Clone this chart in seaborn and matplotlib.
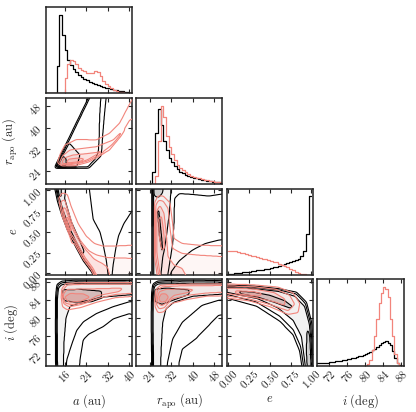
import numpy as np
import pandas as pd
import matplotlib
matplotlib.use("Agg")
import matplotlib.pyplot as plt
import seaborn as sns
from matplotlib.colors import LinearSegmentedColormap
from matplotlib.path import Path
from matplotlib.ticker import FixedLocator, FixedFormatter, NullFormatter

# ---------------- data ----------------
PARAMS = ["a", "r", "e", "i"]
RANGES = {"a": (9.0, 41.0), "r": (19.0, 51.0), "e": (-0.02, 1.02), "i": (69.5, 88.5)}
TICKS = {"a": [16, 24, 32, 40], "r": [24, 32, 40, 48],
         "e": [0.0, 0.25, 0.5, 0.75, 1.0], "i": [72, 76, 80, 84, 88]}
TICK_LABELS = {"a": ["16", "24", "32", "40"], "r": ["24", "32", "40", "48"],
               "e": ["0.00", "0.25", "0.50", "0.75", "1.00"],
               "i": ["72", "76", "80", "84", "88"]}
AXIS_LABELS = {"a": r"$a\ (\mathrm{au})$", "r": r"$r_{\mathrm{apo}}\ (\mathrm{au})$",
               "e": r"$e$", "i": r"$i\ (\mathrm{deg})$"}

# 1-D histograms: bin edges and bin heights (black = prior, red = posterior)
a_edges = list(np.arange(9, 42, 1.0))
a_black = [0, 0, 0, 0, 0.35, 1.0, 0.75, 0.55, 0.43, 0.36, 0.31, 0.27, 0.24, 0.21, 0.19, 0.17,
           0.15, 0.135, 0.12, 0.105, 0.095, 0.085, 0.075, 0.065, 0.055, 0.048, 0.04, 0.033,
           0.027, 0.02, 0.015, 0.01]
a_red = [0, 0, 0, 0, 0, 0, 0, 0.2, 0.38, 0.43, 0.41, 0.37, 0.33, 0.30, 0.28, 0.26, 0.255,
         0.265, 0.28, 0.275, 0.22, 0.16, 0.12, 0.09, 0.07, 0.05, 0.035, 0.025, 0.015, 0.01,
         0.005, 0]

r_edges = list(np.arange(19, 52, 1.0))
r_black = [0, 0, 0, 0, 0, 0, 0.15, 0.65, 0.96, 0.75, 0.55, 0.43, 0.34, 0.28, 0.23, 0.19, 0.16,
           0.14, 0.12, 0.105, 0.095, 0.085, 0.075, 0.065, 0.058, 0.05, 0.045, 0.04, 0.035,
           0.03, 0.025, 0.02]
r_red = [0, 0, 0, 0, 0, 0, 0, 0.1, 0.55, 1.0, 0.85, 0.62, 0.48, 0.38, 0.31, 0.25, 0.21, 0.18,
         0.15, 0.13, 0.11, 0.095, 0.085, 0.075, 0.065, 0.057, 0.05, 0.045, 0.04, 0.035, 0.03,
         0.025]

e_edges = list(np.linspace(0, 1, 31))
e_black = [0.012, 0.016, 0.02, 0.025, 0.03, 0.035, 0.04, 0.045, 0.05, 0.055, 0.06, 0.065,
           0.07, 0.076, 0.083, 0.09, 0.098, 0.107, 0.117, 0.128, 0.14, 0.152, 0.165, 0.178,
           0.193, 0.21, 0.24, 0.31, 0.52, 1.0]
e_red = [0.31, 0.305, 0.30, 0.29, 0.28, 0.275, 0.265, 0.255, 0.245, 0.24, 0.23, 0.22, 0.21,
         0.20, 0.19, 0.18, 0.17, 0.16, 0.145, 0.13, 0.115, 0.10, 0.08, 0.06, 0.045, 0.03,
         0.017, 0.008, 0.003, 0]

i_edges = list(np.arange(69.5, 88.51, 0.5))
i_black = [0.03, 0.033, 0.036, 0.039, 0.042, 0.045, 0.049, 0.053, 0.057, 0.062, 0.067, 0.072,
           0.077, 0.083, 0.089, 0.096, 0.103, 0.111, 0.12, 0.13, 0.14, 0.152, 0.165, 0.18,
           0.2, 0.22, 0.24, 0.265, 0.29, 0.305, 0.31, 0.295, 0.26, 0.19, 0.1, 0.035, 0.008, 0]
i_red = [0] * 22 + [0.02, 0.08, 0.2, 0.38, 0.6, 0.8, 0.93, 1.0, 0.98, 0.88, 0.6, 0.38, 0.15,
                    0.03, 0, 0]

HISTS = {"a": (a_edges, a_black, a_red), "r": (r_edges, r_black, r_red),
         "e": (e_edges, e_black, e_red), "i": (i_edges, i_black, i_red)}

# 2-D panels: regions of the sample density, one list per
# density layer (2, 1.5, 1, 0.5 sigma), each layer a list of outlines.
ra_black = [[[(12.3, 25.0), (25.5, 52), (31.5, 52), (30.8, 45), (30.2, 38), (29.8, 32), (29.5, 29.5), (25, 25.0)]],
            [[(12.7, 25.3), (25.6, 52), (29.5, 52), (29, 44), (28.8, 36), (28.5, 31), (27.5, 28.5), (24.5, 25.3)]],
            [[(12.9, 25.5), (17.7, 34.3), (21.7, 29.8), (20.5, 25.5)]],
            [[(13.2, 25.7), (15.2, 29.6), (16.5, 28.5), (16.5, 25.7)]]]
ra_red = [[[(13.3, 27.0), (14.5, 30.5), (16.1, 33.5), (20.4, 35.6), (27.8, 35.4), (32.7, 37.9), (36.4, 41.6),
            (40.0, 48.5), (42, 52), (42, 43.5), (40.2, 42.8), (36.4, 36.6), (32.7, 31.7), (27.8, 29.0),
            (25, 27.3), (20, 25.9), (15, 25.9)]],
          [[(14.0, 26.8), (15.2, 29.5), (18, 31.7), (27.8, 32.9), (34, 35.4), (37.7, 39.1), (38.5, 39.5),
            (37, 37.2), (34, 33.9), (31, 31.6), (27.5, 29.8), (24, 27.6), (18, 26.4), (15, 26.3)]],
          [[(14.8, 26.9), (16, 28.8), (19, 29.8), (24, 30.3), (28, 30.8), (30, 31.5), (30.5, 30.8),
            (28.5, 29.5), (25, 27.9), (20, 26.7), (16, 26.5)]],
          [[(16.5, 26.9), (17.5, 28.3), (21, 28.7), (23.5, 28.4), (22, 27.2), (18, 26.8)]]]

ea_black = [[[(12.2, 1.06), (42, 1.06), (42, 0.8), (38, 0.6), (36, 0.45), (35, 0.3), (34, 0.1), (33.5, -0.06),
              (27.3, -0.06), (26, 0.02), (23, 0.15), (20, 0.33), (17, 0.53), (15, 0.7), (13.4, 0.87)]],
            [[(12.5, 1.06), (25, 1.06), (26.6, 0.65), (29.1, 0.5), (30.3, 0.35), (31.5, 0.15), (32.3, -0.06),
              (27.8, -0.06), (26.3, 0.03), (23.3, 0.16), (20.3, 0.34), (17.3, 0.54), (15.3, 0.71), (13.7, 0.88)]],
            [[(12.9, 1.06), (16.5, 1.06), (16, 0.9), (18.5, 0.62), (21, 0.44), (23.2, 0.27), (22.8, 0.22),
              (20.5, 0.36), (18, 0.53), (15.8, 0.72), (14.2, 0.88)]],
            [[(13.2, 1.06), (14.8, 1.06), (14.8, 0.93), (14.2, 0.91), (13.6, 0.95)]]]
ea_red = [[[(13.8, 0.9), (15, 0.97), (17, 0.95), (18.5, 0.8), (21, 0.6), (24, 0.45), (27, 0.36), (30, 0.33),
            (35, 0.33), (42, 0.34), (42, -0.06), (27.6, -0.06), (26, 0.04), (23, 0.17), (20, 0.34), (17, 0.53),
            (15, 0.7)]],
          [[(14.5, 0.86), (16, 0.89), (17.5, 0.72), (19.5, 0.52), (22, 0.38), (25, 0.27), (28, 0.22), (32, 0.19),
            (42, 0.18), (42, -0.06), (28, -0.06), (26.2, 0.06), (23.3, 0.18), (20.3, 0.36), (17.4, 0.54),
            (15.4, 0.71)]],
          [[(15.3, 0.8), (16.5, 0.78), (18.5, 0.58), (21, 0.42), (24, 0.28), (27, 0.17), (30, 0.12), (32, 0.07),
            (33, -0.06), (28.4, -0.06), (26.4, 0.06), (23.5, 0.19), (20.5, 0.36), (17.7, 0.53), (16, 0.66)]],
          [[(16.6, 0.68), (17.5, 0.68), (19, 0.45), (19.6, 0.36), (18.7, 0.36), (17.2, 0.55)]]]

ia_black = [[[(12.9, 69), (12.8, 80), (12.9, 85), (13.3, 87.4), (15, 88.1), (20, 88.3), (42, 88.2), (42, 80.4),
              (40.1, 81), (34, 79.8), (30.3, 78.1), (25, 76.5), (22.9, 75.2), (21.7, 70.8), (21.5, 69)]],
            [[(13.0, 69), (12.9, 80), (13.0, 85), (13.4, 87.2), (15, 87.8), (20, 88), (42, 87.9), (42, 83.6),
              (40.1, 83.6), (34, 82.5), (27.8, 81), (23, 79.2), (20.5, 77.3), (18.5, 74), (16.8, 70.8), (16.6, 69)]],
            [[(13.2, 69), (13.0, 78), (13.1, 84), (13.6, 86.6), (15, 87.4), (20, 87.6), (42, 87.5), (42, 85.2),
              (30, 84.6), (22, 83.4), (18, 82.6), (16.5, 80), (15.8, 75), (15.5, 69)]],
            [[(15.3, 86.2), (22, 86.3), (29.7, 85.9), (29.8, 84.5), (26, 83.6), (20, 83.5), (16, 83.8), (15.2, 84.8)]]]
ia_red = [[[(14.8, 84.5), (15, 86.5), (16.5, 87.6), (25, 87.8), (42, 87.8), (42, 84.8), (35, 84.5), (28, 83.5),
            (22, 82.3), (17, 81.8), (15.2, 82.5)]],
          [[(15.2, 84.8), (15.4, 86.2), (17, 87.3), (25, 87.5), (42, 87.5), (42, 85.5), (35, 85.2), (28, 84.3),
            (22, 83), (17.5, 82.5), (15.7, 83.2)]],
          [[(16, 83.3), (15.3, 85.2), (17, 86.3), (25, 86.4), (32, 86.5), (38, 86.6), (36, 85.8), (28, 84.9),
            (24, 83.5), (19, 82.9)]],
          [[(16, 84.6), (18, 85.4), (23, 85.3), (25.5, 84.6), (22, 83.7), (17.5, 83.5)]]]

er_black = [[[(25.0, 1.06), (52, 1.06), (52, 0.41), (49.5, 0.4), (44.7, 0.36), (39.8, 0.28), (34.9, 0.15),
              (32, 0.02), (31.3, -0.06), (25.0, -0.06)]],
            [[(25.1, 1.06), (52, 1.06), (52, 0.96), (45.9, 0.93), (39.8, 0.95), (34.9, 0.96), (33.2, 0.9),
              (33, 0.6), (32.5, 0.35), (31.5, 0.15), (30.5, -0.06), (25.1, -0.06)]],
            [[(25.2, 1.06), (32, 1.06), (31.3, 0.73), (30, 0.4), (28.8, 0.19), (28.0, -0.06), (25.3, -0.06)]],
            [[(25.3, 1.06), (29, 1.06), (28.8, 0.97), (27.5, 0.92), (26.3, 0.92), (25.4, 0.95)],
             [(26.8, 0.76), (27.4, 0.76), (28.9, 0.28), (28.6, 0.24), (27.6, 0.45)]]]
er_red = [[[(25.8, 0.85), (27, 0.93), (29, 0.93), (31.5, 0.85), (32.5, 0.6), (33, 0.42), (36, 0.36), (42, 0.34),
            (52, 0.33), (52, -0.06), (27, -0.06), (25.8, 0.2)]],
          [[(26.2, 0.82), (27.3, 0.88), (29, 0.87), (30.8, 0.78), (31.5, 0.55), (32.5, 0.3), (36, 0.24), (42, 0.22),
            (52, 0.2), (52, -0.06), (27.5, -0.06), (26.2, 0.2)]],
          [[(26.6, 0.75), (27.8, 0.82), (29.3, 0.72), (30.2, 0.45), (30.8, 0.2), (33, 0.1), (36, 0.06), (38, -0.06),
            (28, -0.06), (26.6, 0.25)]],
          [[(27.3, 0.65), (28.3, 0.7), (29.2, 0.5), (29.5, 0.3), (28.5, 0.28), (27.5, 0.45)]]]

ir_black = [[[(24.9, 69), (24.8, 80), (24.9, 85.5), (25.3, 87.5), (27, 88.1), (35, 88.3), (52, 88.2), (52, 80.8),
              (49.5, 80.6), (41, 75.4), (36.1, 73.2), (34.9, 70.3), (34.8, 69)]],
            [[(25.0, 69), (24.9, 80), (25.0, 85.5), (25.4, 87.3), (27, 87.9), (35, 88), (52, 87.9), (52, 84.0),
              (49.5, 83.9), (43.4, 82.8), (36.1, 79.1), (32.5, 75.4), (30.6, 70.3), (30.4, 69)]],
            [[(25.2, 69), (25.0, 80), (25.1, 85), (25.6, 86.9), (27, 87.5), (35, 87.6), (52, 87.5), (52, 85.3),
              (40, 84.8), (33, 83.5), (30, 82), (28.8, 79), (28.3, 74), (28, 69)]],
            [[(25.8, 86.3), (30, 86.6), (38.6, 86.2), (38.6, 85.2), (33, 84), (28.5, 83), (26, 83.6)]]]
ir_red = [[[(25.9, 84), (26.3, 86.3), (28, 87.2), (35, 87.4), (52, 87.5), (52, 84.9), (45, 84.8), (38, 84.1),
            (32, 83.2), (29, 81.3), (27, 81.2), (26, 82.5)]],
          [[(26.3, 84), (26.8, 86), (28.5, 86.9), (35, 87.1), (52, 87.2), (52, 85.7), (45, 85.5), (38, 85.0),
            (32, 84.2), (29.5, 82.3), (27.5, 82), (26.5, 83)]],
          [[(26.7, 84.2), (27.5, 85.8), (30, 86.3), (36, 86.4), (41, 86.3), (38, 85.6), (33, 85), (30.5, 83.5),
            (28.5, 82.7), (27, 83.3)]],
          [[(27.3, 84.3), (28.2, 85.3), (30, 85.3), (31, 84.6), (29.8, 83.6), (28, 83.5)]]]

ie_black = [[[(-0.06, 87.2), (0.3, 87.0), (0.61, 86.4), (0.82, 85.7), (0.94, 83.5), (1.0, 79.1), (1.02, 74),
              (1.03, 69), (0.89, 69), (0.86, 72.7), (0.78, 76.3), (0.62, 79.3), (0.34, 82.6), (-0.06, 84.6)]],
            [[(-0.06, 87.0), (0.3, 86.8), (0.61, 86.2), (0.82, 85.3), (0.93, 83.2), (0.99, 79), (1.012, 74),
              (1.02, 69), (0.91, 69), (0.87, 73.8), (0.78, 77.5), (0.62, 80.4), (0.34, 83.5), (-0.06, 85.4)]],
            [[(-0.06, 86.8), (0.3, 86.5), (0.6, 85.9), (0.8, 84.8), (0.92, 82.5), (0.98, 78.5), (1.0, 74),
              (1.01, 69), (0.93, 69), (0.88, 76), (0.78, 79.5), (0.6, 82.2), (0.35, 84.3), (-0.06, 85.8)]],
            [[(0.12, 85.9), (0.3, 85.7), (0.5, 85.0), (0.68, 83.8), (0.78, 82.4), (0.74, 82.2), (0.55, 83.5),
              (0.35, 84.6), (0.15, 85.3)],
             [(0.95, 78), (0.985, 76), (0.995, 72), (1.0, 69), (0.95, 69), (0.94, 73)]]]
ie_red = [[[(-0.06, 87.5), (0.3, 87.3), (0.6, 86.8), (0.78, 85.5), (0.86, 83.2), (0.84, 81.2), (0.72, 80.8),
            (0.5, 82.5), (0.25, 83.8), (-0.06, 84.5)]],
          [[(-0.06, 87.1), (0.3, 86.9), (0.58, 86.3), (0.74, 85), (0.8, 83), (0.72, 81.6), (0.5, 83),
            (0.25, 84.2), (-0.06, 84.9)]],
          [[(-0.06, 86.6), (0.3, 86.4), (0.55, 85.6), (0.68, 84.2), (0.68, 82.8), (0.55, 83.6), (0.3, 84.6),
            (0.05, 85.2), (-0.06, 85.5)]],
          [[(0.08, 86.0), (0.3, 85.8), (0.42, 85.3), (0.35, 84.8), (0.15, 85.2), (0.08, 85.5)]]]

PANELS = {("r", "a"): (ra_black, ra_red), ("e", "a"): (ea_black, ea_red),
          ("i", "a"): (ia_black, ia_red), ("e", "r"): (er_black, er_red),
          ("i", "r"): (ir_black, ir_red), ("i", "e"): (ie_black, ie_red)}

RED = "#f2857c"

# ---------------- style ----------------
sns.set_theme(style="ticks")
plt.rcParams.update({
    "font.family": ["DejaVu Serif"],
    "mathtext.fontset": "cm",
    "xtick.direction": "in", "ytick.direction": "in",
    "xtick.top": True, "ytick.right": True,
    "xtick.major.size": 3, "ytick.major.size": 3,
    "xtick.major.width": 0.8, "ytick.major.width": 0.8,
    "axes.linewidth": 1.1, "axes.edgecolor": "#222222",
    "xtick.labelsize": 8, "ytick.labelsize": 8,
})


def layered_density(layers, xr, yr, n=260, blur=2.5):
    mx = 0.06 * (xr[1] - xr[0])
    my = 0.06 * (yr[1] - yr[0])
    xs = np.linspace(xr[0] - mx, xr[1] + mx, n)
    ys = np.linspace(yr[0] - my, yr[1] + my, n)
    X, Y = np.meshgrid(xs, ys)
    pts = np.column_stack([X.ravel(), Y.ravel()])
    Z = np.zeros(X.size)
    for layer in layers:
        for outline in layer:
            Z += Path(outline).contains_points(pts)
    Z = Z.reshape(X.shape)
    k = np.arange(-8, 9)
    k = np.exp(-0.5 * (k / blur) ** 2)
    k /= k.sum()
    Z = np.apply_along_axis(lambda m: np.convolve(m, k, mode="same"), 0, Z)
    Z = np.apply_along_axis(lambda m: np.convolve(m, k, mode="same"), 1, Z)
    return xs, ys, Z


gray_cmap = LinearSegmentedColormap.from_list(
    "g", [(0.0, (0, 0, 0, 0)), (0.5, (0, 0, 0, 0.0)), (0.75, (0, 0, 0, 0.05)),
          (1.0, (0, 0, 0, 0.2))])
red_cmap = LinearSegmentedColormap.from_list(
    "rd", [(0.0, (0.95, 0.5, 0.47, 0)), (0.25, (0.95, 0.5, 0.47, 0.02)), (0.5, (0.95, 0.5, 0.47, 0.07)),
           (0.75, (0.95, 0.5, 0.47, 0.22)), (1.0, (0.95, 0.5, 0.47, 0.42))])

fig, axes = plt.subplots(4, 4, figsize=(4.16, 4.12), dpi=100)
fig.subplots_adjust(left=0.11, right=0.97, bottom=0.112, top=0.983, wspace=0.05, hspace=0.05)

for row, py in enumerate(PARAMS):
    for col, px in enumerate(PARAMS):
        ax = axes[row, col]
        if col > row:
            ax.set_axis_off()
            continue
        if col == row:
            edges, blk, red = HISTS[px]
            centers = [0.5 * (edges[k] + edges[k + 1]) for k in range(len(edges) - 1)]
            for vals, c in ((blk, "black"), (red, RED)):
                df = pd.DataFrame({"x": centers, "w": vals})
                sns.histplot(data=df, x="x", weights="w", bins=edges, element="step",
                             fill=False, color=c, linewidth=0.9, ax=ax)
            ax.set_ylim(0, 1.1 * max(max(blk), max(red)))
            ax.set_yticks([])
            ax.tick_params(left=False, right=False)
        else:
            blk, red = PANELS[(py, px)]
            dens = [layered_density(blk, RANGES[px], RANGES[py]),
                    layered_density(red, RANGES[px], RANGES[py])]
            for (xs, ys, Z), cm in zip(dens, (gray_cmap, red_cmap)):
                ax.pcolormesh(xs, ys, Z, cmap=cm, vmin=0, vmax=4, shading="auto",
                              zorder=1, rasterized=True)
            for (xs, ys, Z), lc, z in zip(dens, ("black", RED), (2, 3)):
                ax.contour(xs, ys, Z, levels=[0.5, 1.5, 2.5, 3.5], colors=lc,
                           linewidths=0.8, zorder=z)
            ax.set_ylim(*RANGES[py])
            ax.yaxis.set_major_locator(FixedLocator(TICKS[py]))
        ax.set_xlim(*RANGES[px])
        ax.xaxis.set_major_locator(FixedLocator(TICKS[px]))
        ax.set_xlabel("")
        ax.set_ylabel("")
        if row == 3:
            ax.xaxis.set_major_formatter(FixedFormatter(["$%s$" % t for t in TICK_LABELS[px]]))
            for lab in ax.get_xticklabels():
                lab.set_rotation(45)
            ax.set_xlabel(AXIS_LABELS[px], fontsize=9)
            ax.xaxis.set_label_coords(0.5, -0.3)
        else:
            ax.xaxis.set_major_formatter(NullFormatter())
        if col == 0 and row > 0:
            ax.yaxis.set_major_formatter(FixedFormatter(["$%s$" % t for t in TICK_LABELS[py]]))
            for lab in ax.get_yticklabels():
                lab.set_rotation(45)
            ax.set_ylabel(AXIS_LABELS[py], fontsize=9)
            ax.yaxis.set_label_coords(-0.3, 0.5)
        elif col != row:
            ax.yaxis.set_major_formatter(NullFormatter())
        ax.tick_params(length=3, pad=1.5)

fig.savefig("out.png", dpi=100)
